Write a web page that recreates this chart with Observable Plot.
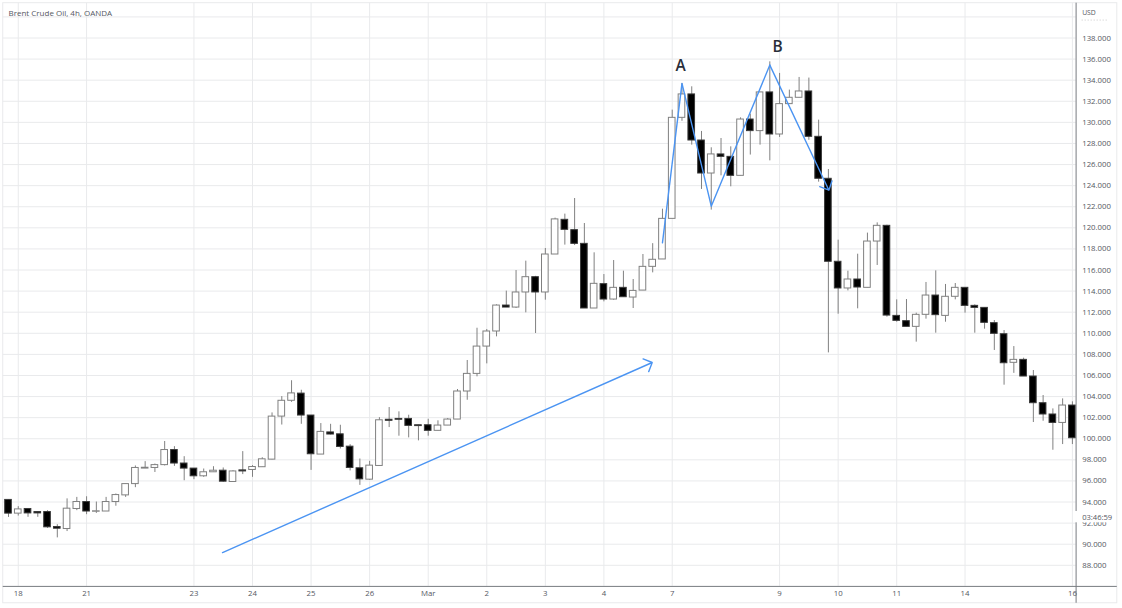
<!DOCTYPE html>
<html><head><meta charset="utf-8">
<script src="https://cdn.jsdelivr.net/npm/d3@7"></script>
<script src="https://cdn.jsdelivr.net/npm/@observablehq/plot@0.6"></script>
<style>html,body{margin:0;padding:0;background:#fff}svg{display:block}</style>
</head><body><div id="chart"></div>
<script>
const open_ = [94.2,92.9,93.34,93.05,93.05,91.63,91.44,93.34,94.0,93.08,93.1,94,94.63,95.7,97.17,97.23,97.5,98.93,97.65,97.17,96.44,96.82,96.97,95.9,97.0,97.04,97.3,98.02,102.1,103.6,
 104.28,102.2,98.5,100.6,100.42,99.25,97.2,96.12,97.42,101.8,101.88,101.88,101.28,101.28,100.75,101.25,101.82,104.48,106.15,108.74,110.17,112.63,112.44,113.87,115.32,113.87,117.47,120.76,119.78,118.48,
 112.35,114.66,113.2,114.31,113.39,114.05,116.3,117,120.85,130.43,132.65,128.28,125.15,126.96,126.73,124.93,130.27,129.17,132.84,128.85,131.73,132.33,132.93,128.63,124.65,116.78,114.25,115.1,114.31,118.7,
 120.19,111.65,111.15,110.61,111.75,113.58,111.65,113.46,114.31,112.6,112.41,110.96,109.91,107.2,107.48,105.9,103.37,102.3,101.5,103.15];
const high = [94.2,93.56,93.35,93.05,93.18,91.85,94.3,94.44,94.5,94.0,94.44,94.76,95.7,97.42,97.83,97.6,99.74,99.25,98.3,97.17,97.13,97.35,97.23,96.97,98.78,97.45,98.2,102.45,104,105.5,
 104.6,102.2,101.44,101.37,101.28,99.44,98.08,97.86,102,102.96,102.55,102.23,101.28,101.85,101.7,101.92,104.67,107.42,110.48,110.36,112.7,114,115.95,116.84,115.4,118.04,120.92,121.3,122.78,120.41,
 117.63,115.57,116.9,115.89,115.1,117.47,118.5,121.77,131.16,133.69,133.37,129.14,127.59,128.47,127.68,130.43,130.78,132.84,135.74,134.64,133.06,134.26,134.2,130.21,125.53,118.83,115.89,117.5,119.5,120.47,
 120.25,113.17,113.2,111.91,114.82,115.92,114.63,114.72,114.31,112.7,112.41,111.21,110.26,108.74,107.64,106.47,104.1,102.83,103.78,103.5];
const low = [92.54,92.67,92.55,92.55,91.5,90.6,91.2,93.18,92.8,92.92,93.1,93.6,94.44,95.36,97.17,96.8,97.42,97.38,96.02,96.12,96.34,96.8,95.87,95.9,96.6,96.34,97.3,98,101.3,103.45,
 101.37,97.0,98.5,100.36,99.03,96.95,95.58,96.05,97.42,101.06,100.24,100.08,99.8,100.24,100.75,101.25,101.82,103.65,105.87,107.1,109.66,112.44,112.35,111.94,109.98,113.14,117.47,118.36,118.32,112.35,
 112.35,112.98,113.14,113.42,112.35,114.05,115.73,117,120.85,130.1,127.84,123.64,121.68,124.93,123.89,124.93,126.9,127.84,126.35,128.57,131.73,132.33,128.3,124.33,108.14,111.81,114.02,112.32,114.31,116.43,
 111.53,111.05,110.61,109.16,111.34,110.01,111.05,113.17,111.91,110.01,110.39,108.37,105.08,106.2,105.9,101.54,101.66,98.91,99.45,99.45];
const close_ = [92.9,93.3,92.92,92.92,91.6,91.47,93.37,94.0,93.1,93.12,94.0,94.66,95.7,97.23,97.25,97.5,98.93,97.65,97.17,96.44,96.82,96.97,95.93,96.9,96.9,97.32,98.05,102.1,103.6,104.3,
 102.2,98.53,100.65,100.4,99.22,97.23,96.15,97.45,101.75,101.7,101.8,101.22,101.2,100.75,101.25,101.82,104.48,106.15,108.74,110.17,112.63,112.44,113.87,115.32,113.87,117.47,120.8,119.81,118.48,112.35,
 114.69,113.2,114.31,113.42,114.02,116.3,116.97,120.85,130.43,132.65,128.28,125.15,126.96,126.73,124.93,130.27,129.17,132.84,128.85,131.73,132.33,132.93,128.63,124.65,116.78,114.25,115.1,114.34,118.7,120.19,
 111.68,111.18,110.61,111.75,113.58,111.72,113.46,114.31,112.6,112.41,110.99,109.95,107.16,107.48,105.9,103.37,102.3,101.5,103.15,100.05];

const xTickIndex = [1,8,19,25,31,37,43,49,55,61,68,79,85,91,98,109];
const xTickLabels = ["18","21","23","24","25","26","Mar","2","3","4","7","9","10","11","14","16"];
const priceTicks = [88,90,92,94,96,98,100,102,104,106,108,110,112,114,116,118,120,122,124,126,128,130,132,134,136,138];
const gridPrices = [...priceTicks,140];

const zigIndex = [67,69,72,78];
const zigPrice = [118.58,133.69,122.05,135.43];
const zigHead = {i1:78,p1:135.43,i2:84.05,p2:123.57};
const upArrow = {i1:21.93,p1:89.2,i2:65.95,p2:107.23};
const labels = [{i:68.85,p:135.3,t:"A"},{i:78.8,p:137.1,t:"B"}];

const candles = open_.map((o,i)=>({i,o,h:high[i],l:low[i],c:close_[i]}));
const zig = zigIndex.map((i,k)=>({i,p:zigPrice[k]}));
const labelOf = new Map(xTickIndex.map((d,k)=>[d,xTickLabels[k]]));

const FONT = "'Open Sans',sans-serif";
const GRID = "#e9eaec", AXIS = "#777b80", TXT = "#55585f", BLUE = "#4b94f2", WICK="#808080";
const half = 0.34;

const chart = Plot.plot({
  width:1122, height:608,
  marginLeft:3, marginRight:46.3, marginTop:3, marginBottom:23.7,
  style:{fontFamily:FONT, background:"#fff"},
  x:{domain:[0,109], range:[8,1071.9], label:null},
  y:{domain:[88,138], range:[564.8,37.5], label:null},
  marks:[
    Plot.rect([{}],{x1:-0.54,x2:113.6,y1:84.4,y2:141.3,fill:"#fff",stroke:GRID}),
    Plot.ruleY(gridPrices,{x1:-0.54,x2:109.4,stroke:GRID,strokeWidth:1}),
    Plot.ruleX(xTickIndex,{y1:86,y2:141.3,stroke:GRID,strokeWidth:1}),
    Plot.ruleX(candles,{x:"i",y1:"l",y2:"h",stroke:WICK,strokeWidth:1}),
    Plot.rect(candles.filter(d=>d.c>=d.o),{x1:d=>d.i-half,x2:d=>d.i+half,y1:"o",y2:"c",fill:"#fff",stroke:WICK,strokeWidth:1}),
    Plot.rect(candles.filter(d=>d.c<d.o),{x1:d=>d.i-half,x2:d=>d.i+half,y1:"o",y2:"c",fill:"#000",stroke:"#3a3a3a",strokeWidth:1}),
    Plot.line(zig,{x:"i",y:"p",stroke:BLUE,strokeWidth:1.4}),
    Plot.arrow([zigHead],{x1:"i1",y1:"p1",x2:"i2",y2:"p2",stroke:BLUE,strokeWidth:1.4,bend:0,headLength:10.5,headAngle:88}),
    Plot.arrow([upArrow],{x1:"i1",y1:"p1",x2:"i2",y2:"p2",stroke:BLUE,strokeWidth:1.4,bend:0,headLength:10.5,headAngle:90}),
    Plot.text(labels,{x:"i",y:"p",text:"t",fontSize:15.5,fontWeight:600,fill:"#2a2e39"}),
    Plot.ruleY([86],{x1:-0.54,x2:113.6,stroke:AXIS,strokeWidth:1}),
    Plot.ruleX([109.38],{y1:84.4,y2:141.3,stroke:AXIS,strokeWidth:1}),
    Plot.axisY({anchor:"right",ticks:priceTicks,tickSize:0,tickPadding:6,label:null,fontSize:7.8,fill:TXT,tickFormat:d=>d.toFixed(3)}),
    Plot.axisX({anchor:"bottom",ticks:xTickIndex,tickSize:0,tickPadding:6,label:null,fontSize:7.8,fill:TXT,tickFormat:d=>labelOf.get(d)}),
    Plot.rect([{}],{x1:109.1,x2:113.5,y1:92.03,y2:93.1,fill:"#fff"}),
    Plot.text(["03:46:59"],{x:110,y:92.53,text:d=>d,textAnchor:"start",fontSize:7.6,fill:TXT}),
    Plot.text(["Brent Crude Oil, 4h, OANDA"],{x:0,y:140.37,text:d=>d,textAnchor:"start",fontSize:8,fill:TXT}),
    Plot.text(["USD"],{x:110,y:140.4,text:d=>d,textAnchor:"start",fontSize:6.8,fill:TXT}),
    Plot.ruleY([139.7],{x1:110,x2:112.7,stroke:"#c8c8c8",strokeDasharray:"1,2"})
  ]
});
document.getElementById("chart").append(chart);
</script></body></html>
